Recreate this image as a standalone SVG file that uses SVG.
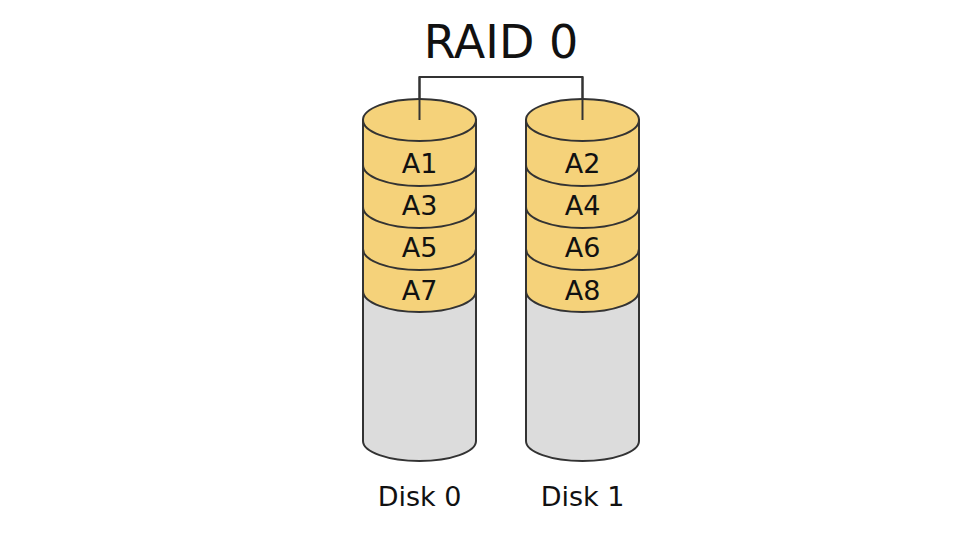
<svg xmlns="http://www.w3.org/2000/svg" width="960" height="540" viewBox="0 0 960 540">
<style>
.ln{fill:none;stroke:#333;stroke-width:2}
.body{fill:#dcdcdc;stroke:#333;stroke-width:2}
.y{fill:#f5d27a}
.t{font-family:"DejaVu Sans",sans-serif;fill:#111;text-anchor:middle}
</style>
<rect width="960" height="540" fill="#fff"/>
<text class="t" x="501" y="58" font-size="46">RAID 0</text>
<g id="connectors"><path class="ln" d="M419.5,120 V77 H582.5 V120"/></g>
<g id="disk0" transform="translate(419.5,0)">
<path class="body" d="M-56.5,120 V441 A56.5,20 0 0 0 56.5,441 V120 Z"/>
<path class="y" d="M-56.5,120 V291 A56.5,21 0 0 0 56.5,291 V120 Z"/>
<path class="ln" d="M-56.5,120 V441 M56.5,120 V441"/>
<path class="ln" d="M-56.5,165 A56.5,21 0 0 0 56.5,165 M-56.5,207 A56.5,21 0 0 0 56.5,207 M-56.5,249 A56.5,21 0 0 0 56.5,249 M-56.5,291 A56.5,21 0 0 0 56.5,291"/>
<ellipse cx="0" cy="120" rx="56.5" ry="21" fill="#f5d27a" stroke="#333" stroke-width="2"/>
<path class="ln" d="M0,77 V120"/>
<text class="t" x="0" y="173" font-size="27">A1</text>
<text class="t" x="0" y="215" font-size="27">A3</text>
<text class="t" x="0" y="257" font-size="27">A5</text>
<text class="t" x="0" y="300" font-size="27">A7</text>
<text class="t" x="0" y="506" font-size="27">Disk 0</text>
</g>
<g id="disk1" transform="translate(582.5,0)">
<path class="body" d="M-56.5,120 V441 A56.5,20 0 0 0 56.5,441 V120 Z"/>
<path class="y" d="M-56.5,120 V291 A56.5,21 0 0 0 56.5,291 V120 Z"/>
<path class="ln" d="M-56.5,120 V441 M56.5,120 V441"/>
<path class="ln" d="M-56.5,165 A56.5,21 0 0 0 56.5,165 M-56.5,207 A56.5,21 0 0 0 56.5,207 M-56.5,249 A56.5,21 0 0 0 56.5,249 M-56.5,291 A56.5,21 0 0 0 56.5,291"/>
<ellipse cx="0" cy="120" rx="56.5" ry="21" fill="#f5d27a" stroke="#333" stroke-width="2"/>
<path class="ln" d="M0,77 V120"/>
<text class="t" x="0" y="173" font-size="27">A2</text>
<text class="t" x="0" y="215" font-size="27">A4</text>
<text class="t" x="0" y="257" font-size="27">A6</text>
<text class="t" x="0" y="300" font-size="27">A8</text>
<text class="t" x="0" y="506" font-size="27">Disk 1</text>
</g>
</svg>
